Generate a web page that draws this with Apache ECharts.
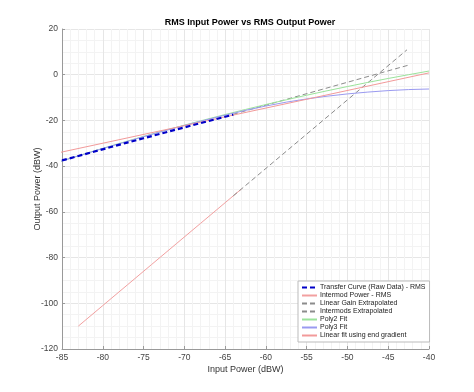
<!DOCTYPE html>
<html>
<head>
<meta charset="utf-8">
<script src="https://cdn.jsdelivr.net/npm/echarts@6/dist/echarts.min.js"></script>
<style>html,body{margin:0;padding:0;background:#fff}#c{width:474px;height:392px}</style>
</head>
<body>
<div id="c"></div>
<script>
// Transfer curve (raw data)
var transferX = [-85, -83, -81, -79, -77, -75, -73, -71, -69, -67, -65, -64];
var transferY = [-37.5, -35.55, -33.6, -31.65, -29.7, -27.8, -25.9, -24.0, -22.1, -20.25, -18.4, -17.5];
// Intermod power (raw data)
var intermodX = [-83, -80, -77, -74, -71, -68, -65, -63];
var intermodY = [-110, -101, -92, -83, -74, -65, -56, -50];
// Linear gain extrapolated
var gainExtX = [-64, -42.5];
var gainExtY = [-17.3, 4.2];
// Intermods extrapolated
var imExtX = [-64, -42.7];
var imExtY = [-53.0, 10.9];
// Poly fits
var fitX = [-85.5, -85, -82.5, -80, -77.5, -75, -72.5, -70, -67.5, -65, -62.5, -60, -57.5, -55, -52.5, -50, -47.5, -45, -42.5, -40];
var poly2Y = [-38.3, -37.7, -34.92, -32.21, -29.57, -27.0, -24.5, -22.07, -19.71, -17.42, -15.2, -13.05, -10.98, -8.97, -7.03, -5.17, -3.37, -1.64, 0.01, 1.6];
var poly3Y = [-38.3, -37.7, -35.0, -32.3, -29.7, -27.1, -24.6, -22.2, -19.9, -17.7, -15.6, -13.7, -12.0, -10.6, -9.4, -8.4, -7.6, -6.95, -6.5, -6.25];
// Linear fit using end gradient
var linFitX = [-85.5, -40];
var linFitY = [-34.2, 0.8];

var names = ['Transfer Curve (Raw Data) - RMS', 'Intermod Power - RMS', 'Linear Gain Extrapolated',
  'Intermods Extrapolated', 'Poly2 Fit', 'Poly3 Fit', 'Linear fit using end gradient'];

function zip(xs, ys) { return xs.map(function (x, i) { return [x, ys[i]]; }); }

var chart = echarts.init(document.getElementById('c'));
var font = 'Liberation Sans, Arial, Helvetica, sans-serif';
function mk(name, xs, ys, color, width, type) {
  return {
    name: name, type: 'line', data: zip(xs, ys), showSymbol: false, symbol: 'none',
    clip: false, animation: false,
    lineStyle: { color: color, width: width, type: type },
    itemStyle: { color: color }
  };
}
chart.setOption({
  backgroundColor: '#fff',
  animation: false,
  title: {
    text: 'RMS Input Power vs RMS Output Power', left: 245, textAlign: 'center', top: 13,
    textStyle: { fontFamily: font, fontSize: 9, fontWeight: 'bold', color: '#000' }
  },
  grid: { left: 62, right: 45, top: 29, bottom: 43, containLabel: false },
  legend: {
    orient: 'vertical', left: 298, top: 281, itemWidth: 15, itemHeight: 8, itemGap: 1,
    padding: [3, 4, 3, 3], backgroundColor: '#fff', borderColor: '#bbb', borderWidth: 1,
    itemStyle: { opacity: 0 },
    textStyle: { fontFamily: font, fontSize: 7, color: '#222', padding: [0, 0, 0, -2] },
    data: names
  },
  xAxis: {
    type: 'value', min: -85, max: -40, interval: 5,
    name: 'Input Power (dBW)', nameLocation: 'middle', nameGap: 16, nameMoveOverlap: false,
    nameTextStyle: { fontFamily: font, fontSize: 9, color: '#333' },
    axisLine: { show: true, onZero: false, lineStyle: { color: '#999' } },
    axisTick: { show: true, inside: true, length: 3, lineStyle: { color: '#999' } },
    minorTick: { show: false, splitNumber: 5 },
    axisLabel: { fontFamily: font, fontSize: 8.5, color: '#444', margin: 4 },
    splitLine: { show: true, lineStyle: { color: '#e6e6e6', width: 1 } },
    minorSplitLine: { show: true, lineStyle: { color: '#f3f3f3', width: 1 } }
  },
  yAxis: {
    type: 'value', min: -120, max: 20, interval: 20,
    name: 'Output Power (dBW)', nameLocation: 'middle', nameGap: 20, nameMoveOverlap: false,
    nameTextStyle: { fontFamily: font, fontSize: 9, color: '#333' },
    axisLine: { show: true, onZero: false, lineStyle: { color: '#999' } },
    axisTick: { show: true, inside: true, length: 3, lineStyle: { color: '#999' } },
    minorTick: { show: false, splitNumber: 4 },
    axisLabel: { fontFamily: font, fontSize: 8.5, color: '#444', margin: 4 },
    splitLine: { show: true, lineStyle: { color: '#e6e6e6', width: 1 } },
    minorSplitLine: { show: true, lineStyle: { color: '#f3f3f3', width: 1 } }
  },
  series: [
    mk(names[1], intermodX, intermodY, '#f2a0a0', 1, 'solid'),
    mk(names[2], gainExtX, gainExtY, '#8c8c8c', 1, [5, 3]),
    mk(names[3], imExtX, imExtY, '#8c8c8c', 1, [5, 3]),
    mk(names[4], fitX, poly2Y, '#9be39b', 1, 'solid'),
    mk(names[5], fitX, poly3Y, '#9a9af0', 1, 'solid'),
    mk(names[6], linFitX, linFitY, '#f29a9a', 1, 'solid'),
    mk(names[0], transferX, transferY, '#0000c8', 2.2, [5, 3])
  ]
});
</script>
</body>
</html>
